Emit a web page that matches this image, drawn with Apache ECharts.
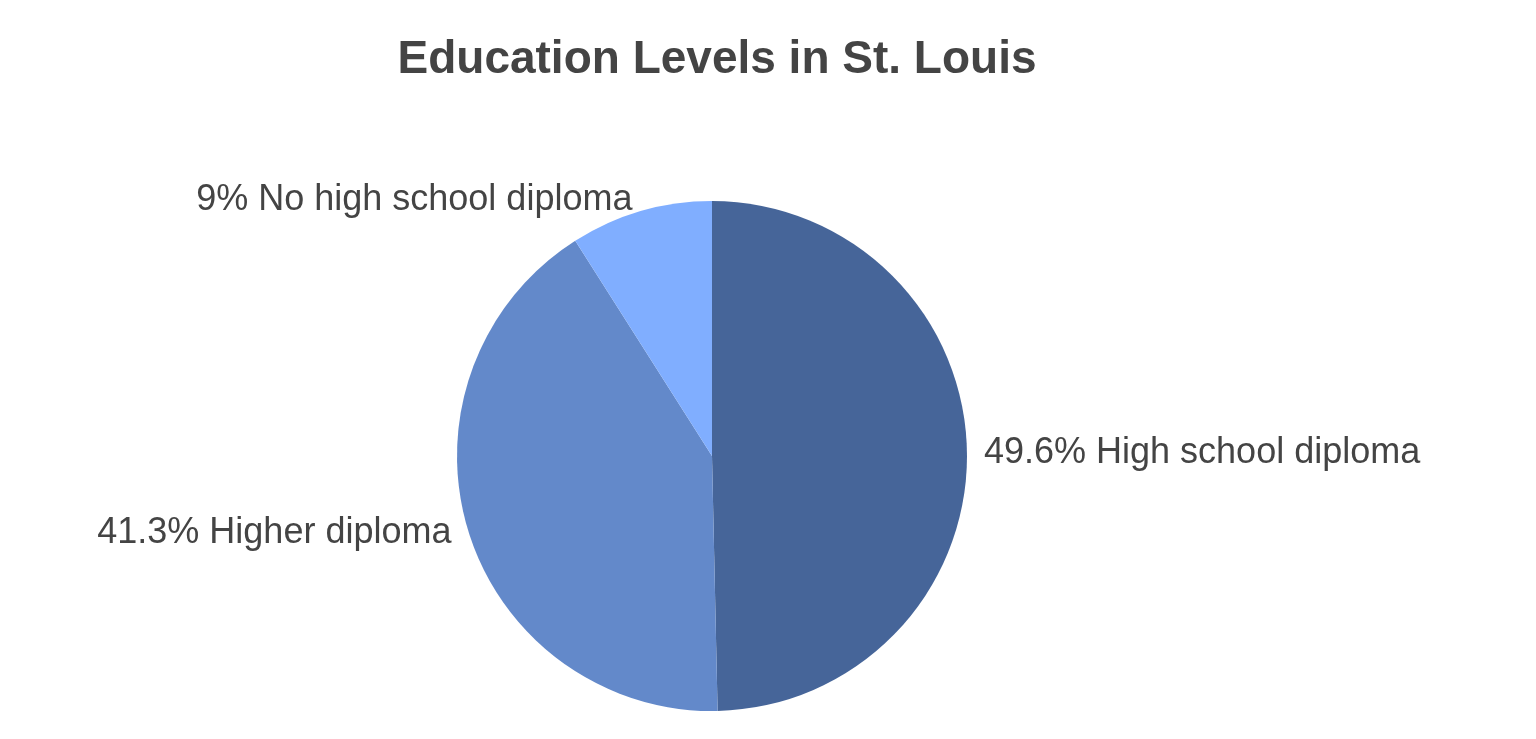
<!DOCTYPE html>
<html><head><meta charset="utf-8">
<script src="https://cdn.jsdelivr.net/npm/echarts@6/dist/echarts.min.js"></script>
<style>html,body{margin:0;padding:0;background:#fff}#c{width:1536px;height:739px}</style>
</head><body><div id="c"></div>
<script>
const categories = ["High school diploma", "Higher diploma", "No high school diploma"];
const values = [49.6, 41.3, 9];
const colors = ["#466599", "#6389CA", "#80AEFF"];
const chart = echarts.init(document.getElementById('c'));
chart.setOption({
  animation: false,
  title: {text: "Education Levels in St. Louis", left: 712, top: 32, textAlign: 'center',
    textStyle: {fontFamily: 'Liberation Sans, Arial', fontSize: 46, fontWeight: 'bold', color: '#444'}},
  series: [{
    type: 'pie', center: [712, 456], radius: 255, startAngle: 90, clockwise: true,
    data: categories.map((c, i) => ({name: c, value: values[i], itemStyle: {color: colors[i]}})),
    label: {show: true, position: 'outside', formatter: p => p.value + '% ' + p.name,
      fontFamily: 'Liberation Sans, Arial', fontSize: 36, color: '#444'},
    labelLine: {show: false, length: 12, length2: 0}
  }]
});
</script></body></html>
